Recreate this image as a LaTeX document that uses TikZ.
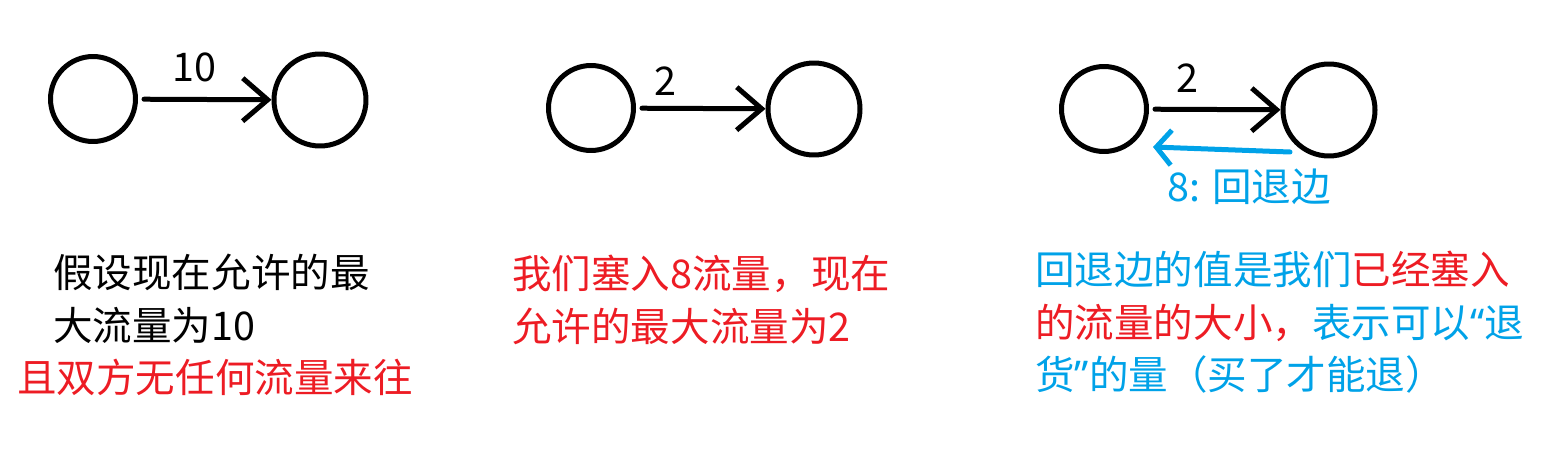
\documentclass[tikz,border=0pt]{standalone}
\usepackage{fontspec}
\setmainfont{Noto Sans CJK SC}
\newfontfamily\quotefont{Noto Sans}
\usetikzlibrary{arrows.meta}
\definecolor{flowred}{RGB}{237,28,36}
\definecolor{backblue}{RGB}{0,162,232}

\begin{document}
\begin{tikzpicture}[
  x=0.02cm, y=-0.02cm,
  font=\fontsize{22.5}{29.9}\selectfont,
  every node/.style={inner sep=0pt},
  vertex/.style={draw,circle,line width=0.1cm},
  small/.style={vertex,minimum size=1.7cm},
  big/.style={vertex,minimum size=1.84cm},
  flow/.style={draw,line width=0.1cm,line cap=round,shorten <=0.12cm,
    -{Straight Barb[length=0.5cm,width=0.86cm]}},
  back/.style={draw=backblue,line width=0.1cm,line cap=round,
    -{Straight Barb[length=0.3cm,width=0.7cm]}},
  note/.style={anchor=north west,align=left},
  ]
  \useasboundingbox (0,0) rectangle (1541,449);

  % before anything is pushed
  \node[small](a1) at (93,99) {};
  \node[big](b1) at (320,100) {};
  \path (a1) edge[flow] node[pos=0.42,above=0.3cm]{10} (b1);
  \node[note](t1) at (53,254) {假设现在允许的最\\大流量为10};
  \node[note,text=flowred](t1r) at (17,359) {且双方无任何流量来往};

  % after pushing 8
  \node[small](a2) at (591,108) {};
  \node[big](b2) at (814,109) {};
  \path (a2) edge[flow] node[pos=0.23,above=0.2cm]{2} (b2);
  \node[note,text=flowred](t2) at (512,255) {我们塞入8流量，现在\\允许的最大流量为2};

  % with the back edge
  \node[small](a3) at (1104,109) {};
  \node[big](b3) at (1329,110) {};
  \path (a3) edge[flow] node[pos=0.29,above=0.28cm]{2} (b3);
  \coordinate (bs) at (1290,152);
  \coordinate (be) at (1153,147);
  \draw[back] (bs) -- (be);
  \node[anchor=west,text=backblue](bl) at (1167,187) {8: 回退边};
  \node[note,text=backblue](t3) at (1035,251)
    {回退边的值是我们\textcolor{flowred}{已经塞入}\\
     \textcolor{flowred}{的流量的大小，}表示可以{\quotefont “}退\\
     货{\quotefont ”}的量（买了才能退）};
\end{tikzpicture}
\end{document}
